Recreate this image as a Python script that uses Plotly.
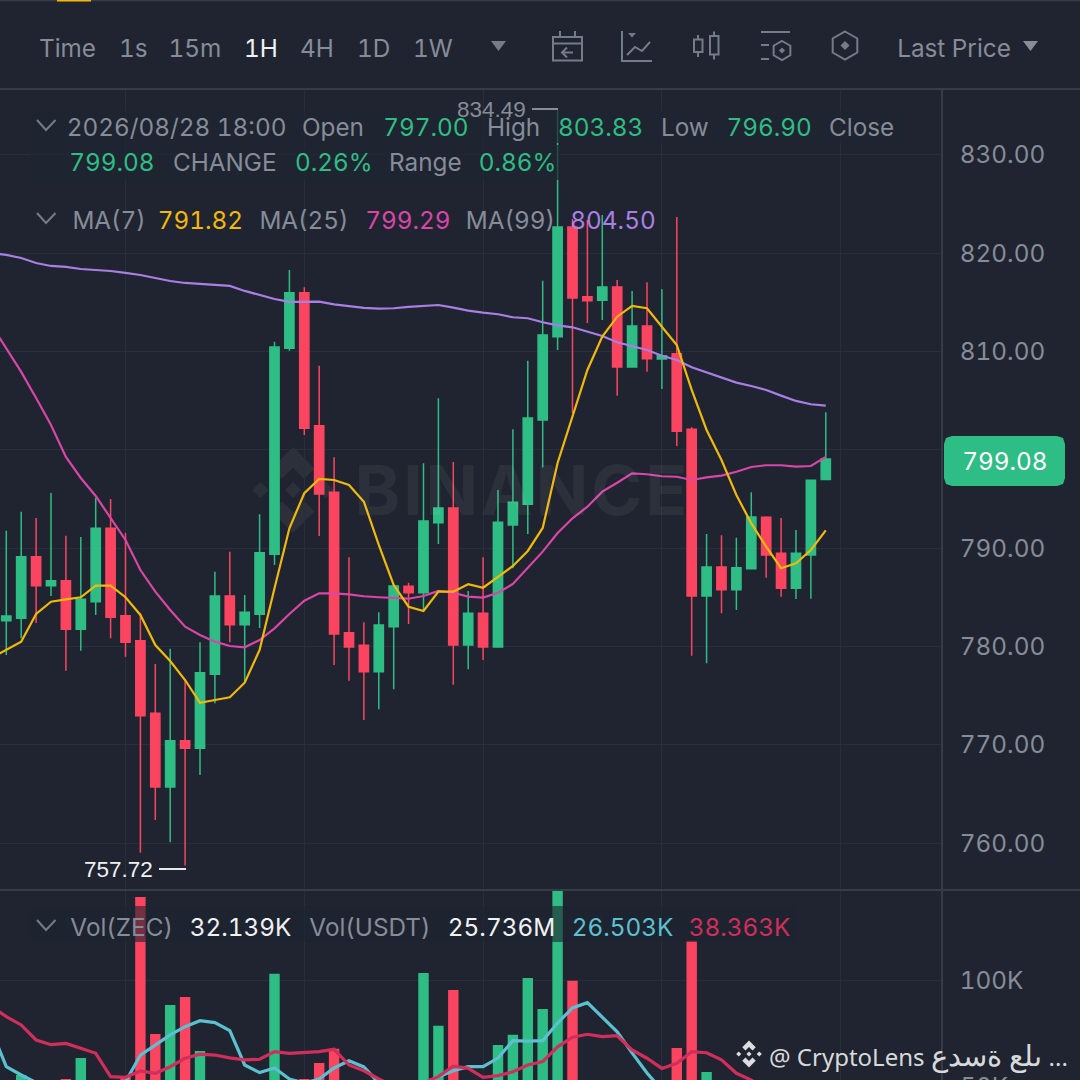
import plotly.graph_objects as go

# ZEC/USDT 1H candles
candle_x = list(range(56))
ma_x = [-1] + candle_x

open_prices = [782.63, 782.87, 789.14, 786.19, 786.70, 781.75, 784.56, 792.03, 783.13, 780.59,
               773.21, 765.71, 770.42, 769.64, 777.17, 785.14, 782.22, 783.28, 789.38, 810.34,
               815.99, 802.46, 795.69, 781.41, 780.12, 777.44, 782.02, 786.13, 785.47, 792.60,
               794.09, 780.15, 783.38, 779.95, 792.36, 794.47, 803.04, 811.52, 822.68, 815.59,
               815.22, 816.57, 808.44, 812.61, 809.25, 809.79, 802.10, 785.14, 788.09, 785.78,
               787.90, 793.14, 789.48, 785.92, 789.31, 797.00]
high_prices = [791.78, 793.71, 793.07, 795.62, 791.27, 791.14, 795.14, 795.01, 791.58, 783.41,
               778.22, 779.78, 776.70, 780.43, 787.61, 789.64, 785.24, 793.45, 811.00, 818.30,
               816.54, 808.57, 799.25, 789.08, 782.46, 783.48, 786.30, 786.49, 798.64, 805.25,
               798.77, 785.65, 789.08, 795.92, 802.10, 809.08, 817.21, 834.49, 823.49, 823.39,
               823.90, 817.29, 816.17, 817.05, 816.34, 823.69, 802.30, 791.45, 791.31, 791.07,
               795.69, 793.25, 793.07, 791.85, 797.00, 803.83]
low_prices = [779.14, 780.83, 782.39, 785.14, 777.54, 779.57, 783.21, 780.83, 778.96, 759.02,
              762.35, 760.08, 757.72, 766.93, 774.22, 780.43, 776.42, 781.88, 788.29, 810.09,
              801.52, 791.24, 778.12, 776.52, 772.52, 773.61, 775.65, 782.29, 783.71, 790.43,
              776.12, 777.68, 778.63, 779.90, 787.96, 791.45, 798.21, 810.16, 803.76, 812.91,
              813.22, 805.52, 808.40, 807.96, 806.20, 800.40, 779.06, 778.29, 783.38, 783.71,
              787.86, 787.00, 785.07, 784.83, 784.86, 796.90]
close_prices = [783.10, 789.14, 786.19, 786.70, 781.75, 784.80, 792.03, 782.97, 780.43, 772.96,
                765.71, 770.42, 769.64, 777.34, 785.14, 782.22, 783.48, 789.54, 810.47, 815.99,
                802.20, 795.52, 781.27, 779.95, 777.44, 782.19, 786.16, 785.47, 792.77, 794.09,
                780.15, 783.38, 779.95, 792.64, 794.67, 803.25, 811.69, 822.68, 815.45, 815.18,
                816.57, 808.44, 812.61, 809.28, 809.58, 801.89, 785.14, 788.09, 785.78, 788.02,
                793.18, 789.31, 785.92, 789.48, 796.91, 799.08]

ma7 = [778.83, 779.65, 780.49, 783.31, 784.56, 784.80, 785.01, 786.19, 786.19, 785.01, 783.21,
       780.15, 778.53, 776.59, 774.28, 774.56, 774.83, 776.32, 779.65, 785.92, 792.03,
       795.59, 797.04, 796.94, 796.43, 794.73, 790.33, 786.26, 784.05, 783.61, 785.58,
       785.58, 786.33, 785.98, 787.10, 788.19, 789.72, 792.06, 798.67, 803.38, 808.13,
       811.52, 813.55, 814.64, 814.41, 812.53, 810.67, 806.10, 802.03, 798.97, 795.41,
       792.53, 790.15, 787.96, 788.46, 789.82, 791.82]
ma25 = [812.71, 810.37, 807.93, 805.28, 802.53, 799.28, 797.14, 795.31, 793.07, 790.84, 787.78,
        785.58, 783.71, 782.02, 781.17, 780.49, 780.05, 779.92, 780.66, 781.85, 783.31,
        784.66, 785.41, 785.41, 785.31, 785.11, 785.01, 784.90, 784.86, 785.14, 785.65,
        785.47, 785.07, 784.97, 785.47, 786.36, 787.96, 789.65, 791.55, 793.04, 794.22,
        795.75, 796.66, 797.62, 797.52, 797.32, 797.27, 796.94, 797.21, 797.38, 797.78,
        798.26, 798.44, 798.44, 798.29, 798.36, 799.29]
ma99 = [820.03, 819.83, 819.52, 819.01, 818.71, 818.61, 818.40, 818.30, 818.20, 818.00, 817.79,
        817.49, 817.18, 816.98, 816.88, 816.78, 816.68, 816.17, 815.76, 815.35, 815.05,
        815.08, 815.08, 814.81, 814.61, 814.44, 814.37, 814.41, 814.54, 814.64, 814.74,
        814.47, 814.16, 813.96, 813.80, 813.49, 813.39, 812.98, 812.66, 812.47, 812.03,
        811.59, 810.95, 810.57, 810.16, 809.58, 809.15, 808.40, 807.86, 807.39, 806.84,
        806.50, 806.10, 805.52, 804.98, 804.64, 804.50]

# volume in thousands of ZEC; most of the low bars run off the bottom of the screenshot
volume = [35, 55.2, 44, 38, 53.3, 63.2, 50, 52, 54.2, 139.2,
          74.5, 88.2, 92.0, 66.5, 48, 30, 25, 40, 103.0, 45,
          53.3, 60.8, 67.6, 35, 30, 28, 35, 25, 103.3, 78.4,
          95.3, 40, 35, 69.3, 74.2, 100.9, 86.3, 143.0, 99.7, 45,
          35, 40, 30, 28, 25, 67.9, 118.5, 56.6, 30, 25,
          28, 22, 26, 20, 35, 32.139]
vol_ma_fast = [76.4, 59.1, 55.2, 51.4, 48.1, 45.8, 44.3, 43.4, 44.3, 51.9, 64.6,
               69.3, 74.1, 78.0, 80.8, 79.9, 76.1, 59.9, 56.3, 58.5, 53.3,
               51.4, 53.3, 58.5, 61.9, 59.0, 51.4, 48.1, 48.1, 51.4, 54.4,
               57.2, 59.1, 59.1, 63.2, 71.4, 71.2, 71.4, 79.7, 86.8, 89.3,
               82.7, 75.6, 65.6, 56.1, 48.1, 43.4, 46, 47, 48, 47,
               46, 44, 42, 40, 38, 26.503]
vol_ma_slow = [87.7, 82.7, 78.8, 71.7, 69.5, 70.1, 67.8, 65.4, 54.4, 54.1, 57.1,
               56.0, 59.1, 63.1, 65.0, 64.6, 63.3, 62.3, 62.6, 66.2, 65.4,
               65.7, 66.2, 67.3, 59.9, 57.2, 53.3, 50.0, 48.1, 51.4, 54.4,
               59.4, 58.3, 54.1, 54.9, 56.7, 59.9, 61.5, 68.5, 73.0, 74.4,
               73.3, 73.7, 67.0, 63.1, 58.3, 60.7, 66.2, 65.7, 62.3, 56.0,
               52.8, 48, 45, 43, 40, 38.363]

price_ticks = [760, 770, 780, 790, 800, 810, 820, 830]
shown_price_ticks = [760, 770, 780, 790, 810, 820, 830]
volume_ticks = [100]

BG = "#1f2430"
GRID = "#292f3a"
EDGE = "#363c48"
GRAY = "#868c98"
ICON = "#757b88"
GREEN = "#2ebd85"
RED = "#fb4560"
YELLOW = "#f0b90b"
PINK = "#d946a8"
PURPLE = "#a97fe6"
CYAN = "#5bc0d0"
CRIMSON = "#d12e5c"
FONT = "Inter"
TEXT_SIZE = 24.3
W, H = 1080, 1080

# tabular digits for every label, spaced-out watermark, no page margin
POST_SCRIPT = """
document.body.style.margin = '0';
document.body.style.overflow = 'hidden';
document.querySelectorAll('svg text').forEach(function (t) {
  t.style.fontVariantNumeric = 'tabular-nums';
  if (t.textContent === 'BINANCE') { t.style.letterSpacing = '3px'; }
});
"""


def px(x, y):
    return x / W, 1 - y / H


def path(points, close=False):
    parts = []
    for i, (x, y) in enumerate(points):
        a, b = px(x, y)
        parts.append(("M" if i == 0 else "L") + f"{a:.5f},{b:.5f}")
    return " ".join(parts) + (" Z" if close else "")


def stroke(points, color=ICON, width=2, close=False):
    return dict(type="path", xref="paper", yref="paper", path=path(points, close),
                line=dict(color=color, width=width), layer="above")


def fill(points, color=ICON, layer="above"):
    return dict(type="path", xref="paper", yref="paper", path=path(points, True),
                line=dict(width=0), fillcolor=color, layer=layer)


def box(x0, y0, x1, y1):
    return [(x0, y0), (x1, y0), (x1, y1), (x0, y1)]


def diamond(cx, cy, r):
    return [(cx, cy - r), (cx + r, cy), (cx, cy + r), (cx - r, cy)]


def hexagon(cx, cy, r):
    w = r * 0.88
    return [(cx, cy - r), (cx + w, cy - r / 2), (cx + w, cy + r / 2),
            (cx, cy + r), (cx - w, cy + r / 2), (cx - w, cy - r / 2)]


def logo(cx, cy, r, color, layer):
    out = [fill(diamond(cx, cy, r * 0.19), color, layer),
           fill(diamond(cx - r * 0.76, cy, r * 0.19), color, layer),
           fill(diamond(cx + r * 0.76, cy, r * 0.19), color, layer)]
    for s in (-1, 1):
        chevron = [(cx, cy + s * r), (cx + r * 0.5, cy + s * r * 0.5), (cx + r * 0.26, cy + s * r * 0.26),
                   (cx, cy + s * r * 0.52), (cx - r * 0.26, cy + s * r * 0.26), (cx - r * 0.5, cy + s * r * 0.5)]
        out.append(fill(chevron, color, layer))
    return out


# x is the centre of the text, the tabular digits widen it after plotly has placed it
def label(x, y, text, color=GRAY, size=TEXT_SIZE, font=FONT, anchor="center"):
    a, b = px(x, y)
    return dict(x=a, y=b, xref="paper", yref="paper", text=text, showarrow=False,
                xanchor=anchor, yanchor="middle", borderpad=0,
                font=dict(color=color, size=size, family=font))


fig = go.Figure()

fig.add_trace(go.Candlestick(
    x=candle_x, open=open_prices, high=high_prices, low=low_prices, close=close_prices,
    increasing=dict(line=dict(color=GREEN, width=1.5), fillcolor=GREEN),
    decreasing=dict(line=dict(color=RED, width=1.5), fillcolor=RED),
    whiskerwidth=0, xaxis="x", yaxis="y", showlegend=False,
))
for values, color in [(ma99, PURPLE), (ma25, PINK), (ma7, YELLOW)]:
    fig.add_trace(go.Scatter(x=ma_x, y=values, mode="lines", line=dict(color=color, width=2.2),
                             xaxis="x", yaxis="y", showlegend=False))

bar_colors = [GREEN if c >= o else RED for o, c in zip(open_prices, close_prices)]
fig.add_trace(go.Bar(x=candle_x, y=volume, marker=dict(color=bar_colors, line=dict(width=0)),
                     xaxis="x2", yaxis="y2", showlegend=False))
for values, color in [(vol_ma_fast, CYAN), (vol_ma_slow, CRIMSON)]:
    fig.add_trace(go.Scatter(x=ma_x, y=values, mode="lines", line=dict(color=color, width=3.2),
                             xaxis="x2", yaxis="y2", showlegend=False))

# chrome around the plot: rules, legend scrims, toolbar icons, price tag
shapes = []
shapes += logo(293, 490, 43, "rgba(255,255,255,0.055)", "below")
shapes += [
    fill(box(30, 111, 900, 143), "rgba(31,36,48,0.72)"),
    fill(box(30, 145, 560, 180), "rgba(31,36,48,0.72)"),
    fill(box(30, 906, 795, 942), "rgba(31,36,48,0.62)"),
    stroke([(0, 89), (W, 89)], EDGE, 2),
    stroke([(0, 890), (W, 890)], EDGE, 2),
    stroke([(942, 90), (942, 1080)], EDGE, 2),
    stroke([(0, 0.5), (W, 0.5)], EDGE, 1.5),
    fill(box(57, 0, 91, 1.5), YELLOW),
    # dropdown arrows
    fill([(491, 41), (506, 41), (498.5, 51)]),
    fill([(1023, 41), (1038, 41), (1030.5, 51)], GRAY),
    # calendar
    stroke(box(553, 37, 582, 60.5), close=True),
    stroke([(553, 43.5), (582, 43.5)]),
    stroke([(560, 31), (560, 37)]),
    stroke([(575, 31), (575, 37)]),
    stroke([(573, 52.5), (562, 52.5)]),
    stroke([(567, 47.5), (562, 52.5), (567, 57.5)]),
    # line chart
    stroke([(622, 31), (622, 61), (652, 61)]),
    stroke([(627, 55), (635, 47), (642, 51), (650, 42)]),
    fill([(628, 33), (636, 33), (632, 37.5)]),
    # candles
    stroke(box(694, 39.5, 702.5, 52), close=True),
    stroke([(698, 35), (698, 39.5)]),
    stroke([(698, 52), (698, 57)]),
    stroke(box(710, 36, 718.5, 54.5), close=True),
    stroke([(714, 31.5), (714, 36)]),
    stroke([(714, 54.5), (714, 59.5)]),
    # chart settings
    stroke([(761, 32), (790, 32)]),
    stroke([(761, 45), (769, 45)]),
    stroke([(761, 59), (769, 59)]),
    stroke(hexagon(782, 50.5, 9.5), close=True),
    fill(diamond(782, 50.5, 3)),
    # depth hexagon
    stroke(hexagon(845, 45.5, 14), close=True),
    fill(diamond(845, 45.5, 4.5)),
    # collapse chevrons
    stroke([(37, 120), (46, 130), (55.5, 120)]),
    stroke([(37, 213), (46, 223), (55.5, 213)]),
    stroke([(37, 920), (46, 930), (55.5, 920)]),
    # high / low markers
    stroke([(532, 109), (558, 109)], GRAY, 2),
    stroke([(159, 869), (186, 869)], "#e8e8e8", 2),
    # last price tag
    dict(type="path", xref="paper", yref="paper", fillcolor=GREEN, line=dict(width=0), layer="above",
         path=path([(952, 436), (1057, 436), (1063, 438), (1065, 444), (1065, 478), (1063, 484), (1057, 486),
                    (952, 486), (946, 484), (944, 478), (944, 444), (946, 438)], True)),
]
shapes += logo(749, 1054, 13.5, "#dcdde0", "above")

annotations = [
    label(67.5, 48, "Time"), label(133, 48, "1s"), label(195, 48, "15m"), label(261, 48, "1H", "#f0f1f3"),
    label(316.5, 48, "4H"), label(373.5, 48, "1D"), label(433, 48, "1W"), label(953.5, 48, "Last Price"),

    label(176, 127, "2026/08/28 18:00"), label(333, 127, "Open"), label(426, 127, "797.00", GREEN),
    label(513, 127, "High"), label(600.5, 127, "803.83", GREEN), label(684.5, 127, "Low"),
    label(768.5, 127, "796.90", GREEN), label(861.5, 127, "Close"),

    label(111.5, 162, "799.08", GREEN), label(225, 162, "CHANGE"), label(333.5, 162, "0.26%", GREEN),
    label(425.5, 162, "Range"), label(517.5, 162, "0.86%", GREEN),

    label(108.5, 220, "MA(7)"), label(200.5, 220, "791.82", YELLOW), label(303.5, 220, "MA(25)"),
    label(407.5, 220, "799.29", PINK), label(510, 220, "MA(99)"), label(612.5, 220, "804.50", PURPLE),

    label(121, 927, "Vol(ZEC)"), label(240.5, 927, "32.139K", "#f0f1f3"), label(369.5, 927, "Vol(USDT)"),
    label(501, 927, "25.736M", "#f0f1f3"), label(622, 927, "26.503K", CYAN), label(739.5, 927, "38.363K", CRIMSON),

    label(456, 109, "834.49", GRAY, 22.5, "Liberation Sans", "left"),
    label(83, 869, "757.72", "#f0f1f3", 22.5, "Liberation Sans", "left"),
    label(960, 1086, "50K", anchor="left"),
    label(1004.5, 461, "799.08", "#ffffff"),
    label(522, 490, "<b>BINANCE</b>", "rgba(255,255,255,0.055)", 69),
    label(768, 1054, "@ CryptoLens <span style='font-size:29px'>\u202Dعدسة على\u202C</span> ...",
          "#d8d9dc", 24, "Noto Sans", "left"),
]

fig.update_layout(
    width=W, height=H, margin=dict(l=0, r=0, t=0, b=0),
    paper_bgcolor=BG, plot_bgcolor=BG, boxgap=0.38, boxgroupgap=0, bargap=0.3,
    hovermode=False, showlegend=False,
    font=dict(family=FONT, color=GRAY, size=TEXT_SIZE),
    shapes=shapes, annotations=annotations,
    xaxis=dict(domain=[0, 942 / W], range=[-0.423, 62.8], anchor="y", rangeslider=dict(visible=False),
               tickmode="linear", tick0=8, dtick=12, showticklabels=False, ticks="",
               showgrid=True, gridcolor=GRID, gridwidth=1, zeroline=False),
    yaxis=dict(domain=[1 - 890 / H, 1 - 90 / H], range=[755.23, 836.61], anchor="x", side="right",
               tickvals=price_ticks,
               ticktext=[f"{v:.2f}" if v in shown_price_ticks else "" for v in price_ticks],
               ticks="outside", ticklen=12, tickcolor="rgba(0,0,0,0)",
               showgrid=True, gridcolor=GRID, gridwidth=1, zeroline=False, automargin=False),
    xaxis2=dict(domain=[0, 942 / W], range=[-0.423, 62.8], anchor="y2",
                tickmode="linear", tick0=8, dtick=12, showticklabels=False, ticks="",
                showgrid=True, gridcolor=GRID, gridwidth=1, zeroline=False),
    yaxis2=dict(domain=[0, 1 - 890 / H], range=[52.83, 142.45], anchor="x2", side="right",
                tickvals=volume_ticks, ticktext=["100K"],
                ticks="outside", ticklen=12, tickcolor="rgba(0,0,0,0)",
                showgrid=True, gridcolor=GRID, gridwidth=1, zeroline=False, automargin=False),
)

fig.write_html("out.html", config={"displayModeBar": False}, post_script=POST_SCRIPT)
